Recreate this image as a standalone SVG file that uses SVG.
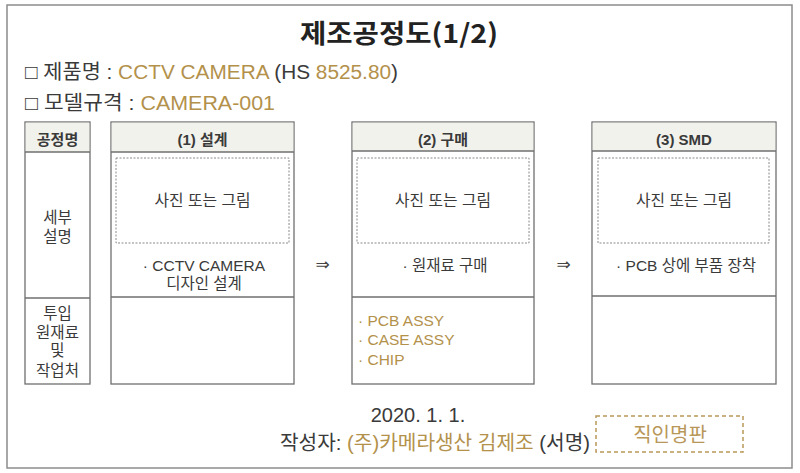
<svg xmlns="http://www.w3.org/2000/svg" width="800" height="473" viewBox="0 0 800 473">
<style>
  text { font-family: "Liberation Sans", "Noto Sans CJK KR", sans-serif; fill: #3a3a3a; }
  .title { font-family: "Noto Sans CJK KR", sans-serif; font-weight: bold; font-size: 26px; fill: #222; }
  .info { font-size: 20px; }
  .gold { fill: #b3914b; }
  .body { font-size: 15.5px; }
  .hdr { font-size: 15px; font-weight: bold; }
  .mid { text-anchor: middle; }
  .arrow { font-family: "DejaVu Sans", sans-serif; font-size: 17px; fill: #444; }
  .box { fill: #fff; stroke: #6f6f6f; stroke-width: 1.3; }
  .hfill { fill: #f2f2ec; }
  .line { stroke: #6f6f6f; stroke-width: 1.3; }
  .dash { fill: none; stroke: #8a8a8a; stroke-width: 1; stroke-dasharray: 2 1.5; }
  .stamp { fill: none; stroke: #b8985a; stroke-width: 1.5; stroke-dasharray: 4 3; }
</style>
<rect width="800" height="473" fill="#fff"/>
<rect x="7" y="5" width="785" height="463" fill="none" stroke="#8c8c8c" stroke-width="1.5"/>

<g id="header">
  <text class="title mid" x="399" y="43" textLength="198" lengthAdjust="spacingAndGlyphs">제조공정도(1/2)</text>
  <text class="info" x="25" y="79" textLength="373" lengthAdjust="spacingAndGlyphs">□ 제품명 : <tspan class="gold">CCTV CAMERA</tspan> (HS <tspan class="gold">8525.80</tspan>)</text>
  <text class="info" x="25" y="110" textLength="250" lengthAdjust="spacingAndGlyphs">□ 모델규격 : <tspan class="gold">CAMERA-001</tspan></text>
</g>

<g id="label-column">
  <rect class="box" x="25" y="122" width="65" height="262"/>
  <rect class="hfill" x="25.7" y="122.7" width="63.6" height="29.3"/>
  <line class="line" x1="25" y1="152" x2="90" y2="152"/>
  <line class="line" x1="25" y1="298" x2="90" y2="298"/>
  <text class="hdr mid" x="57.5" y="145">공정명</text>
  <text class="body mid" x="57.5" y="223">세부</text>
  <text class="body mid" x="57.5" y="242">설명</text>
  <text class="body mid" x="57.5" y="319">투입</text>
  <text class="body mid" x="57.5" y="338">원재료</text>
  <text class="body mid" x="57.5" y="356">및</text>
  <text class="body mid" x="57.5" y="376">작업처</text>
</g>

<g id="step1">
  <rect class="box" x="111" y="122" width="183" height="262"/>
  <rect class="hfill" x="111.7" y="122.7" width="181.6" height="29.3"/>
  <line class="line" x1="111" y1="152" x2="294" y2="152"/>
  <line class="line" x1="111" y1="297" x2="294" y2="297"/>
  <rect class="dash" x="116" y="158" width="173" height="85"/>
  <text class="hdr mid" x="202.5" y="145">(1) 설계</text>
  <text class="body mid" x="202.5" y="206" textLength="96" lengthAdjust="spacingAndGlyphs">사진 또는 그림</text>
  <text class="body mid" x="204" y="271">· CCTV CAMERA</text>
  <text class="body mid" x="204" y="289">디자인 설계</text>
</g>

<g id="step2">
  <rect class="box" x="352" y="122" width="182" height="262"/>
  <rect class="hfill" x="352.7" y="122.7" width="180.6" height="28.3"/>
  <line class="line" x1="352" y1="151" x2="534" y2="151"/>
  <line class="line" x1="352" y1="297" x2="534" y2="297"/>
  <rect class="dash" x="357" y="158" width="172" height="85"/>
  <text class="hdr mid" x="443" y="145">(2) 구매</text>
  <text class="body mid" x="443" y="206" textLength="96" lengthAdjust="spacingAndGlyphs">사진 또는 그림</text>
  <text class="body mid" x="445" y="271">· 원재료 구매</text>
  <text class="body gold" x="358" y="326">· PCB ASSY</text>
  <text class="body gold" x="358" y="345">· CASE ASSY</text>
  <text class="body gold" x="358" y="365">· CHIP</text>
</g>

<g id="step3">
  <rect class="box" x="592" y="122" width="184" height="262"/>
  <rect class="hfill" x="592.7" y="122.7" width="182.6" height="28.3"/>
  <line class="line" x1="592" y1="151" x2="776" y2="151"/>
  <line class="line" x1="592" y1="296" x2="776" y2="296"/>
  <rect class="dash" x="598" y="158" width="171" height="85"/>
  <text class="hdr mid" x="684" y="145">(3) SMD</text>
  <text class="body mid" x="684" y="206" textLength="96" lengthAdjust="spacingAndGlyphs">사진 또는 그림</text>
  <text class="body mid" x="686" y="271">· PCB 상에 부품 장착</text>
</g>

<g id="connectors">
  <text class="arrow mid" x="322.5" y="270">⇒</text>
  <text class="arrow mid" x="563.5" y="270">⇒</text>
</g>

<g id="footer">
  <text class="info mid" x="418" y="422">2020. 1. 1.</text>
  <text class="info" x="280" y="450" textLength="310" lengthAdjust="spacingAndGlyphs">작성자: <tspan class="gold">(주)카메라생산 김제조</tspan> (서명)</text>
</g>

<g id="stamp">
  <rect class="stamp" x="596" y="416" width="147" height="36"/>
  <text class="info mid gold" x="670" y="442" style="fill:#b8985a">직인명판</text>
</g>
</svg>
